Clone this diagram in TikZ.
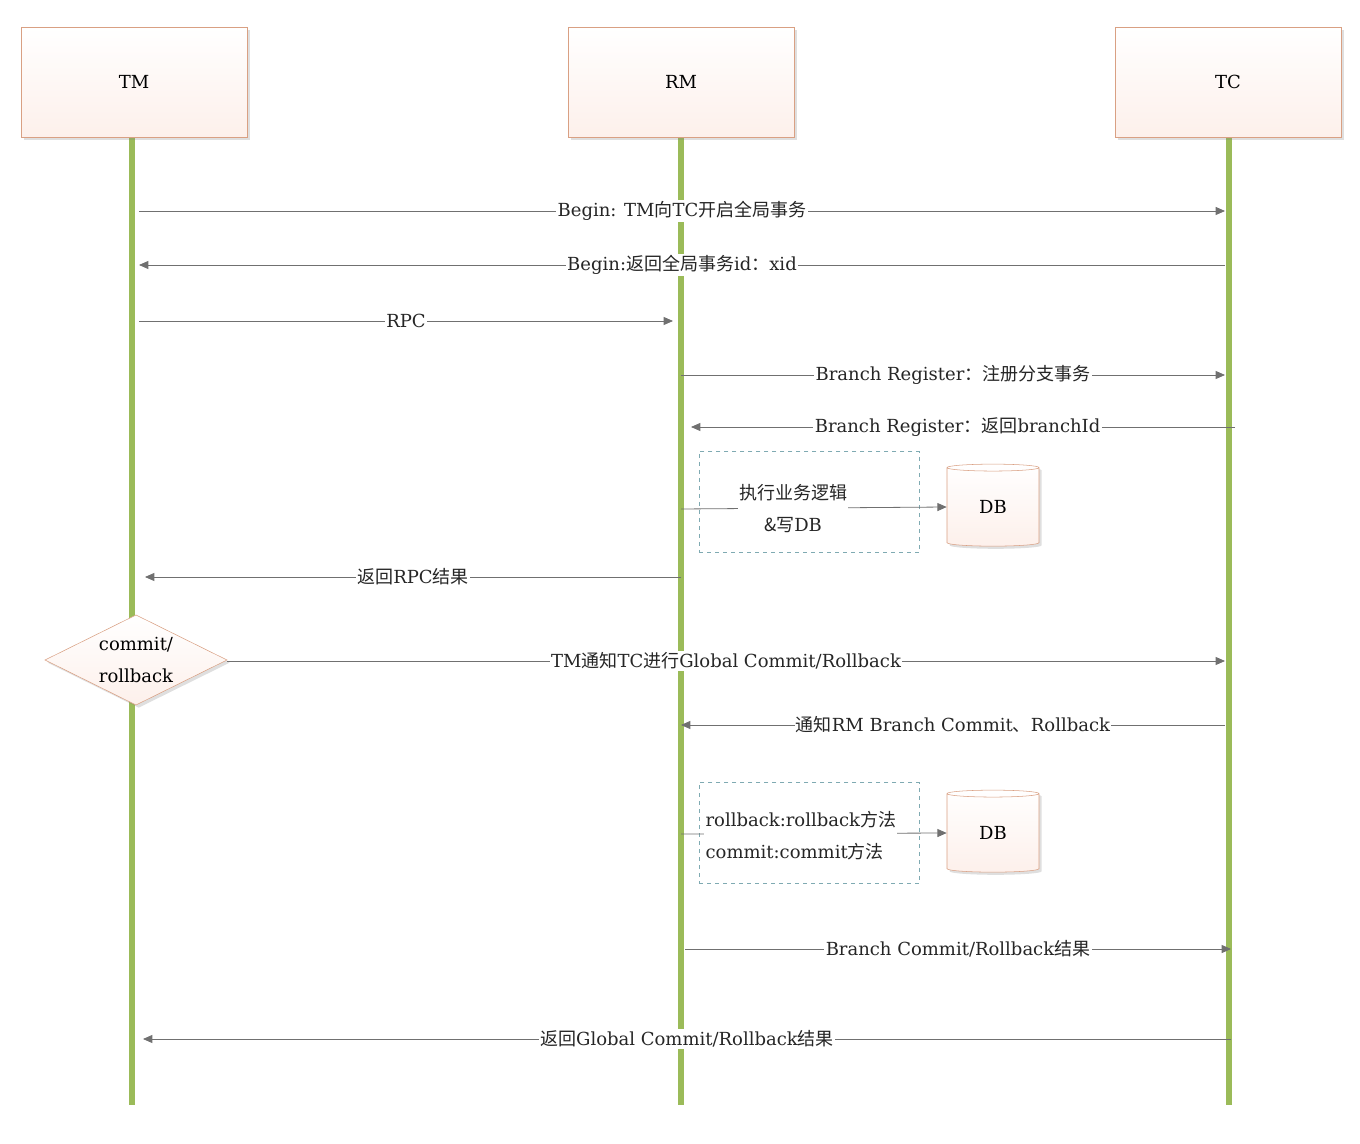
\documentclass[tikz,border=0pt]{standalone}
\usepackage{fontspec}
\setmainfont{DejaVu Serif}
\newfontfamily\cjk{Noto Sans CJK SC}
\usetikzlibrary{arrows.meta,shapes.geometric,shadows}
\definecolor{lifegreen}{HTML}{9BBB59}
\definecolor{boxline}{HTML}{D9A083}
\definecolor{boxfill}{HTML}{FDF0EB}
\definecolor{msg}{HTML}{707070}
\definecolor{dashc}{HTML}{7FAAB2}
\begin{document}
\begin{tikzpicture}[x=0.75pt,y=-0.75pt,font=\fontsize{13.5}{18}\selectfont,
  actor/.style={draw=boxline,top color=white,bottom color=boxfill,minimum width=169.5pt,minimum height=82.5pt,inner sep=0,drop shadow={opacity=0.25,shadow xshift=2pt,shadow yshift=-2pt}},
  life/.style={draw=lifegreen,line width=4.5pt},
  msgarr/.style={draw=msg,line width=0.6pt,-{Triangle[length=7pt,width=6pt]}},
  lbl/.style={fill=white,inner sep=1pt,text=black!85},
  dbox/.style={draw=dashc,dashed,line width=0.6pt,minimum width=165pt,minimum height=76pt,inner sep=0},
  db/.style={cylinder,shape border rotate=90,aspect=0.25,draw=boxline,top color=white,bottom color=boxfill,minimum width=69pt,minimum height=61.5pt,inner sep=0,drop shadow={opacity=0.25,shadow xshift=2pt,shadow yshift=-2pt}}]
\useasboundingbox (0,0) rectangle (1360,1144);
\draw[life] (132,137) -- (132,1105);
\draw[life] (681,137) -- (681,1105);
\draw[life] (1229,137) -- (1229,1105);
\node[actor] (tm) at (134,82) {TM};
\node[actor] (rm) at (681,82) {RM};
\node[actor] (tc) at (1228,82) {TC};
\coordinate (a1) at (139,211); \coordinate (b1) at (1225,211);
\draw[msgarr] (a1) -- node[lbl]{Begin: TM{\cjk 向}TC{\cjk 开启全局事务}} (b1);
\coordinate (a2) at (1225,265); \coordinate (b2) at (139,265);
\draw[msgarr] (a2) -- node[lbl]{Begin:{\cjk 返回全局事务}id{\cjk ：}xid} (b2);
\coordinate (a3) at (139,321); \coordinate (b3) at (673,321);
\draw[msgarr] (a3) -- node[lbl,pos=0.5]{RPC} (b3);
\coordinate (a4) at (681,375); \coordinate (b4) at (1225,375);
\draw[msgarr] (a4) -- node[lbl]{Branch Register{\cjk ：注册分支事务}} (b4);
\coordinate (a5) at (1235,427); \coordinate (b5) at (691,427);
\draw[msgarr] (a5) -- node[lbl,pos=0.51]{Branch Register{\cjk ：返回}branchId} (b5);
\node[dbox] (d1) at (809,502) {};
\node[db] (db1) at (993,507) {DB};
\coordinate (a6) at (681,509);
\draw[msgarr] (a6) -- (db1.west);
\node[lbl,align=center,font=\fontsize{13.5}{24}\selectfont] (t1) at (793,509) {{\cjk 执行业务逻辑}\\{\cjk \&写}DB};
\coordinate (a7) at (681,577); \coordinate (b7) at (145,577);
\draw[msgarr] (a7) -- node[lbl,pos=0.5]{{\cjk 返回}RPC{\cjk 结果}} (b7);
\draw[draw=boxline,top color=white,bottom color=boxfill,drop shadow={opacity=0.25,shadow xshift=2pt,shadow yshift=-2pt}] (45,660) -- (136,615) -- (227,660) -- (136,705) -- cycle;
\node[align=center,font=\fontsize{13.5}{24}\selectfont,inner sep=0] (dm) at (136,660) {commit/\\rollback};
\coordinate (a8) at (227,661); \coordinate (b8) at (1225,661);
\draw[msgarr] (a8) -- node[lbl,pos=0.5]{TM{\cjk 通知}TC{\cjk 进行}Global Commit/Rollback} (b8);
\coordinate (a9) at (1225,725); \coordinate (b9) at (681,725);
\draw[msgarr] (a9) -- node[lbl]{{\cjk 通知}RM Branch Commit{\cjk 、}Rollback} (b9);
\node[dbox] (d2) at (809,833) {};
\node[db] (db2) at (993,833) {DB};
\coordinate (a10) at (681,834);
\draw[msgarr] (a10) -- (db2.west);
\node[lbl,align=left,anchor=west,font=\fontsize{13.5}{24}\selectfont] (t2) at (704,836) {rollback:rollback{\cjk 方法}\\commit:commit{\cjk 方法}};
\coordinate (a11) at (685,949); \coordinate (b11) at (1231,949);
\draw[msgarr] (a11) -- node[lbl]{Branch Commit/Rollback{\cjk 结果}} (b11);
\coordinate (a12) at (1231,1039); \coordinate (b12) at (143,1039);
\draw[msgarr] (a12) -- node[lbl,pos=0.5]{{\cjk 返回}Global Commit/Rollback{\cjk 结果}} (b12);
\end{tikzpicture}
\end{document}
